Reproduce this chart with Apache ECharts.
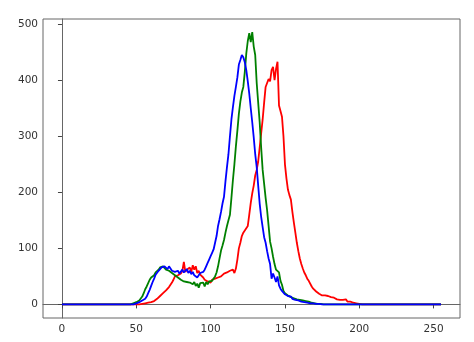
<!DOCTYPE html>
<html>
<head>
<meta charset="utf-8">
<script src="https://cdn.jsdelivr.net/npm/echarts@6/dist/echarts.min.js"></script>
<style>html,body{margin:0;padding:0;background:#fff}#c{width:474px;height:342px}</style>
</head>
<body>
<div id="c"></div>
<script>
const xTicks = [0, 50, 100, 150, 200, 250];
const yTicks = [0, 100, 200, 300, 400, 500];

const blue = [
0,0,0,0,0,0,0,0,0,0,0,0,0,0,0,0,
0,0,0,0,0,0,0,0,0,0,0,0,0,0,0,0,
0,0,0,0,0,0,0,0,0,0,0,0,0,0,0,0,
0,1,2,3,4,5,7,8,10,14,20,26,33,40,46,53,
56,60,62,66,64,68,66,63,68,65,60,62,58,56,60,55,
58,62,57,60,63,56,60,54,58,52,55,48,52,56,54,58,
62,68,74,80,86,92,98,110,122,140,152,165,180,192,220,245,
268,300,330,352,372,388,405,428,436,445,441,432,418,398,376,350,
325,298,268,245,212,180,156,138,120,110,95,82,72,46,55,48,
40,50,34,28,24,22,18,16,15,12,14,10,9,8,7,7,
6,5,5,4,4,3,3,2,2,2,1,1,1,1,1,0,
0,0,0,0,0,0,0,0,0,0,0,0,0,0,0,0,
0,0,0,0,0,0,0,0,0,0,0,0,0,0,0,0,
0,0,0,0,0,0,0,0,0,0,0,0,0,0,0,0,
0,0,0,0,0,0,0,0,0,0,0,0,0,0,0,0,
0,0,0,0,0,0,0,0,0,0,0,0,0,0,0,0
];

const green = [
0,0,0,0,0,0,0,0,0,0,0,0,0,0,0,0,
0,0,0,0,0,0,0,0,0,0,0,0,0,0,0,0,
0,0,0,0,0,0,0,0,0,0,0,0,0,0,0,1,
2,3,4,5,7,9,14,20,27,32,38,44,48,45,52,57,
55,62,66,64,68,65,62,64,60,58,56,54,52,50,48,46,
44,42,41,44,40,38,39,42,36,40,33,37,30,38,35,39,
32,40,36,41,39,42,45,50,57,68,82,96,105,115,128,140,
150,160,190,222,250,282,310,340,362,378,388,415,448,470,484,468,
486,460,445,395,360,325,280,240,215,190,168,140,112,100,85,72,
62,60,57,42,35,24,20,18,16,15,13,14,11,10,9,9,
8,7,7,6,6,5,5,4,3,3,2,2,1,1,1,0,
0,0,0,0,0,0,0,0,0,0,0,0,0,0,0,0,
0,0,0,0,0,0,0,0,0,0,0,0,0,0,0,0,
0,0,0,0,0,0,0,0,0,0,0,0,0,0,0,0,
0,0,0,0,0,0,0,0,0,0,0,0,0,0,0,0,
0,0,0,0,0,0,0,0,0,0,0,0,0,0,0,0
];

const red = [
0,0,0,0,0,0,0,0,0,0,0,0,0,0,0,0,
0,0,0,0,0,0,0,0,0,0,0,0,0,0,0,0,
0,0,0,0,0,0,0,0,0,0,0,0,0,0,0,0,
0,0,0,0,0,1,1,2,2,3,3,4,4,5,6,8,
10,12,15,17,20,22,25,27,31,35,39,44,50,48,52,50,
55,60,76,58,62,60,66,58,70,62,68,56,60,53,50,48,
44,46,41,43,39,44,42,46,44,48,46,50,48,55,52,57,
55,60,58,62,56,64,80,100,110,122,128,132,136,140,160,181,
198,212,230,240,255,280,305,330,360,388,395,402,398,418,424,400,
420,433,355,345,335,300,250,225,205,195,187,165,146,128,110,95,
82,72,64,57,52,46,42,39,32,28,26,23,21,19,18,16,
15,16,14,15,12,13,11,12,10,9,10,8,7,8,6,9,
5,4,5,3,3,2,2,1,1,0,0,0,0,0,0,0,
0,0,0,0,0,0,0,0,0,0,0,0,0,0,0,0,
0,0,0,0,0,0,0,0,0,0,0,0,0,0,0,0,
0,0,0,0,0,0,0,0,0,0,0,0,0,0,0,0
];

const chart = echarts.init(document.getElementById('c'), null, {renderer: 'canvas'});
const toPairs = a => a.map((v, i) => [i, v]);
const font = {fontFamily: 'DejaVu Sans', fontSize: 10.5, color: '#333'};
const lineSeries = (data, color) => ({
  type: 'line', data: toPairs(data), symbol: 'none', silent: true,
  lineStyle: {color: color, width: 1.8}, itemStyle: {color: color}
});
chart.setOption({
  animation: false,
  backgroundColor: '#fff',
  grid: {left: 43, top: 19, right: 14, bottom: 24, show: true, borderColor: '#666', borderWidth: 1, backgroundColor: '#fff'},
  xAxis: {
    type: 'value', min: -12.75, max: 267.75,
    axisLine: {show: true, lineStyle: {color: '#666'}},
    axisTick: {show: true, length: 4, customValues: xTicks, lineStyle: {color: '#444'}},
    axisLabel: Object.assign({customValues: xTicks, margin: 6}, font),
    splitLine: {show: false}
  },
  yAxis: {
    type: 'value', min: -24.25, max: 509.25,
    axisLine: {show: true, lineStyle: {color: '#666'}},
    axisTick: {show: true, length: 4, customValues: yTicks, lineStyle: {color: '#444'}},
    axisLabel: Object.assign({customValues: yTicks, margin: 5}, font),
    splitLine: {show: false}
  },
  series: [
    lineSeries(red, '#ff0000'),
    lineSeries(green, '#008000'),
    lineSeries(blue, '#0000ff')
  ]
});
</script>
</body>
</html>
